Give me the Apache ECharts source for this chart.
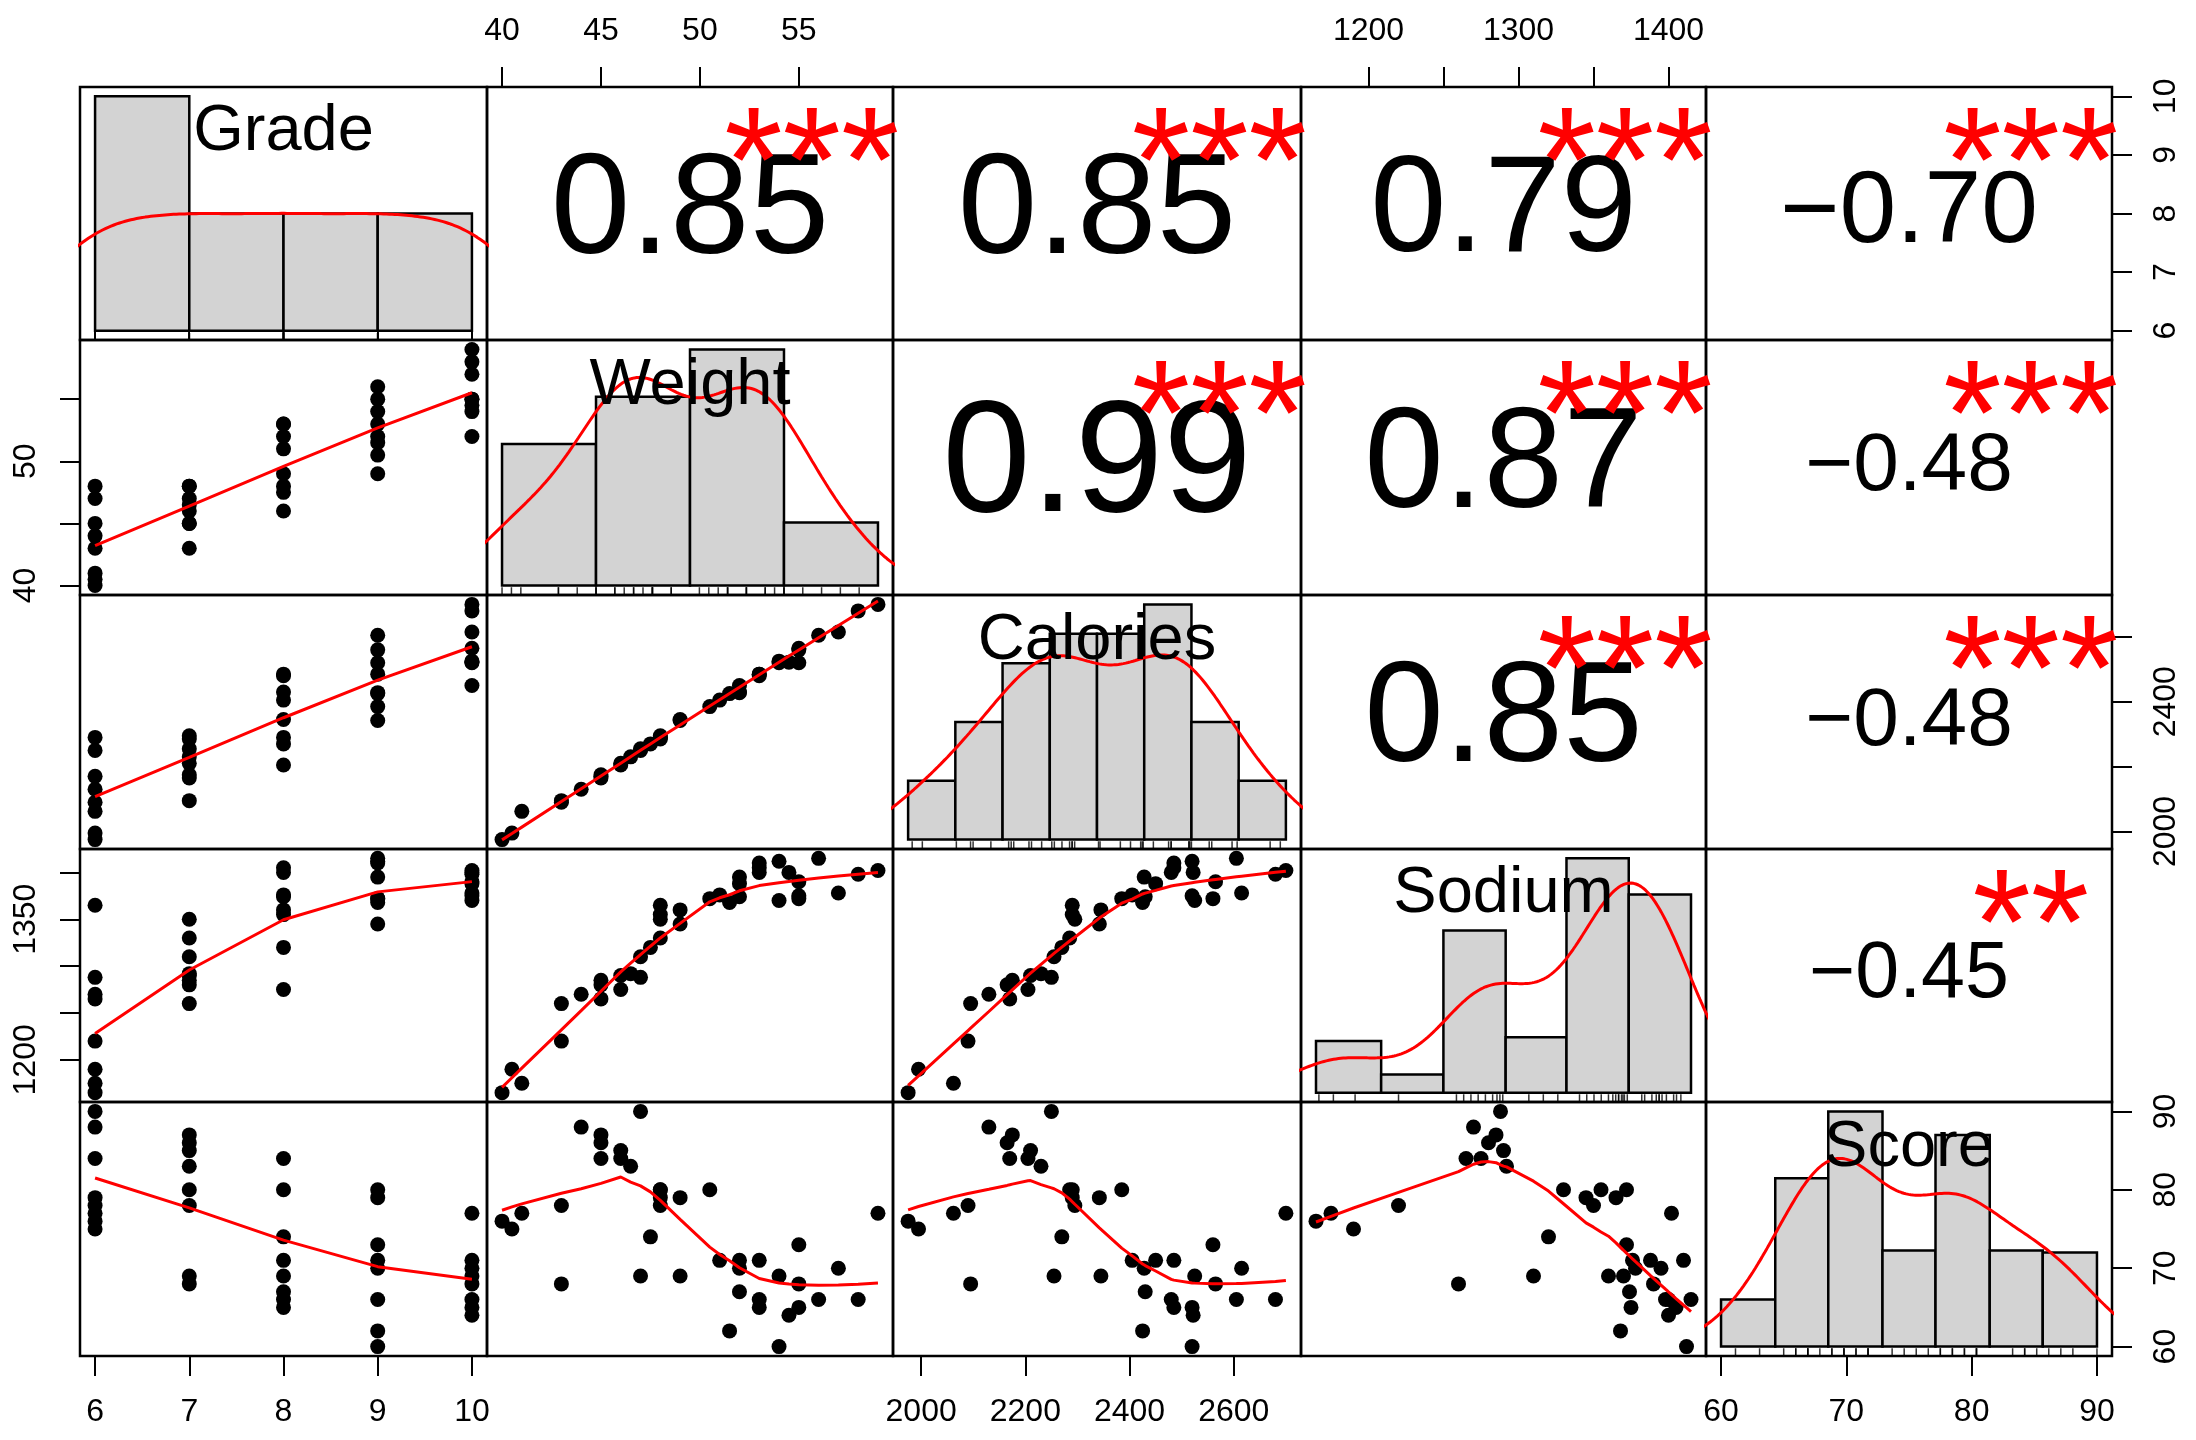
<!DOCTYPE html>
<html><head><meta charset="utf-8">
<script src="https://cdn.jsdelivr.net/npm/echarts@6/dist/echarts.min.js"></script>
<style>html,body{margin:0;padding:0;background:#fff}#c{width:2196px;height:1440px}</style>
</head><body><div id="c"></div>
<script>
// ---------- data ----------
const varNames = ["Grade", "Weight", "Calories", "Sodium", "Score"];
const grade    = [6,6,6,6,6,6,6,6, 7,7,7,7,7,7,7,7, 8,8,8,8,8,8,8,8, 9,9,9,9,9,9,9,9, 10,10,10,10,10,10,10,10];
const weight   = [40,40.5,41,43,44,45,47,48, 43,45,45,46,46.5,47,48,48, 46,47.5,48,49,51,52,53,53, 49,50.5,51.5,52,53,54,55,56, 52,54,54.5,55,55,57,58,59];
const calories = [1975,1995,2062,2090,2130,2170,2250,2290, 2095,2165,2175,2210,2230,2255,2285,2295, 2205,2270,2290,2345,2405,2430,2480,2485, 2342,2385,2425,2428,2485,2520,2560,2605, 2450,2525,2522,2565,2520,2615,2680,2700];
const sodium   = [1165,1190,1175,1220,1270,1265,1288,1365, 1260,1280,1285,1290,1292,1310,1330,1350, 1275,1320,1355,1360,1376,1374,1400,1405, 1345,1372,1368,1395,1410,1412,1372,1415, 1388,1370,1400,1390,1375,1378,1398,1402];
const score    = [76,75,77,78,88,84,90,79, 68,86,87,85,83,69,80,78, 84,74,80,69,71,67,66,65, 79,80,62,70,71,60,73,66, 71,69,64,68,65,70,66,77];

const gradeBreaks    = [6,7,8,9,10];
const weightBreaks   = [40,45,50,55,60];
const caloriesBreaks = [1967,2060,2153,2246,2339,2432,2525,2618,2711];
const sodiumBreaks   = [1163,1208,1251,1294,1336,1379,1422];
const scoreBreaks    = [58.8,63.3,67.7,72.2,76.6,81.1,85.5,90];

// correlation labels, upper triangle [row, col, text, stars]
const corrRows  = [0,0,0,0,1,1,1,2,2,3];
const corrCols  = [1,2,3,4,2,3,4,3,4,4];
const corrText  = ["0.85","0.85","0.79","\u22120.70","0.99","0.87","\u22120.48","0.85","\u22120.48","\u22120.45"];
const corrStars = ["***","***","***","***","***","***","***","***","***","**"];

// tick values / tick labels
const tickVals   = [[6,7,8,9,10],[40,45,50,55],[2000,2200,2400,2600],[1200,1250,1300,1350,1400],[60,70,80,90]];
const xLabelVals = [[6,7,8,9,10],[40,45,50,55],[2000,2200,2400,2600],[1200,1300,1400],[60,70,80,90]];
const yLabelVals = [[6,7,8,9,10],[40,50],[2000,2400],[1200,1350],[60,70,80,90]];

// ---------- layout / style ----------
const xs = [80,487,893,1301,1706,2112];
const ys = [87,340,595,849,1102,1356];
const corrFont = [143,143,137,102,159,143,82,143,82,79];
const FONT = "'Liberation Sans', Arial, Helvetica, sans-serif";

const vars = [grade, weight, calories, sodium, score];
const breaks = [gradeBreaks, weightBreaks, caloriesBreaks, sodiumBreaks, scoreBreaks];

function ext(lo, hi){ const d=(hi-lo)*0.04; return [lo-d, hi+d]; }
const ranges = vars.map(v => ext(Math.min(...v), Math.max(...v)));

function binCounts(v, br){
  const c = new Array(br.length-1).fill(0);
  v.forEach(x => { for (let k=0;k<br.length-1;k++){ if ((k===0 ? x>=br[0] : x>br[k]) && x<=br[k+1]) { c[k]++; break; } } });
  return c;
}
function quantile(sorted, p){ const h=(sorted.length-1)*p, lo=Math.floor(h), hi=Math.ceil(h); return sorted[lo]+(h-lo)*(sorted[hi]-sorted[lo]); }
function kde(v){
  const n=v.length, mean=v.reduce((a,b)=>a+b,0)/n;
  const sd=Math.sqrt(v.reduce((a,b)=>a+(b-mean)*(b-mean),0)/(n-1));
  const s=[...v].sort((a,b)=>a-b);
  const iqr=quantile(s,0.75)-quantile(s,0.25);
  let lo=Math.min(sd, iqr/1.34); if(!(lo>0)) lo=sd;
  const bw=0.9*lo*Math.pow(n,-0.2);
  const a=s[0]-3*bw, b=s[n-1]+3*bw, out=[];
  for(let i=0;i<512;i++){ const x=a+(b-a)*i/511; let d=0; for(const xi of v){ const z=(x-xi)/bw; d+=Math.exp(-0.5*z*z);} out.push([x, d/(n*bw*Math.sqrt(2*Math.PI))]); }
  return out;
}
function median(a){ const s=[...a].sort((x,y)=>x-y); const m=s.length>>1; return s.length%2? s[m] : (s[m-1]+s[m])/2; }
function lowess(xv, yv, f=2/3, iter=3){
  const idx = xv.map((_,i)=>i).sort((i,j)=>xv[i]-xv[j]);
  const x = idx.map(i=>xv[i]), y = idx.map(i=>yv[i]), n=x.length;
  const r = Math.max(2, Math.min(n, Math.round(f*n)));
  let rw = new Array(n).fill(1), fit = new Array(n).fill(0);
  for (let it=0; it<=iter; it++){
    for (let i=0;i<n;i++){
      const d = x.map(v=>Math.abs(v-x[i]));
      const h = [...d].sort((a,b)=>a-b)[r-1];
      let sw=0,sx=0,sy=0,sxx=0,sxy=0;
      for (let j=0;j<n;j++){
        let w;
        if (h<=0) w = d[j]===0?1:0;
        else if (d[j]<=0.001*h) w=1;
        else if (d[j]<=0.999*h){ const q=d[j]/h; w=Math.pow(1-q*q*q,3);} else w=0;
        w*=rw[j];
        sw+=w; sx+=w*x[j]; sy+=w*y[j]; sxx+=w*x[j]*x[j]; sxy+=w*x[j]*y[j];
      }
      const mx=sx/sw, my=sy/sw, vx=sxx/sw-mx*mx;
      fit[i] = vx>1e-12*(Math.abs(mx)+1) ? my + (sxy/sw-mx*my)/vx*(x[i]-mx) : my;
    }
    if (it<iter){
      const res = y.map((v,i)=>v-fit[i]);
      const m = median(res.map(Math.abs));
      if (m===0) break;
      rw = res.map(e=>{ const u=Math.abs(e)/(6*m); return u<1 ? Math.pow(1-u*u,2) : 0; });
    }
  }
  const out=[]; for(let i=0;i<n;i++){ if(i>0 && x[i]===x[i-1]) continue; out.push([x[i],fit[i]]); }
  return out;
}

const grid=[], xAxis=[], yAxis=[], series=[], graphic=[];
const axisLbl = {color:'#000', fontSize:32, fontFamily:FONT, formatter:(v)=>String(v)};
const tickStyle = {color:'#000', width:2};

for (let r=0;r<5;r++) for (let c=0;c<5;c++){
  const gi = grid.length;
  grid.push({left:xs[c], top:ys[r], width:xs[c+1]-xs[c], height:ys[r+1]-ys[r], show:true, borderColor:'#000', borderWidth:2.5, backgroundColor:'transparent', containLabel:false});
  const showTop = r===0 && (c===1||c===3), showBot = r===4 && (c===0||c===2||c===4);
  const showL = c===0 && (r===1||r===3), showR = c===4 && (r===0||r===2||r===4);
  const showX = showTop||showBot, showY = showL||showR;
  xAxis.push({type:'value', gridIndex:gi, min:ranges[c][0], max:ranges[c][1], position: showTop?'top':'bottom',
    axisLine:{show:false}, splitLine:{show:false},
    axisTick:{show:showX, length:20, lineStyle:tickStyle, customValues:tickVals[c]},
    axisLabel:Object.assign({show:showX, margin:40, customValues:xLabelVals[c]}, axisLbl)});
  yAxis.push({type:'value', gridIndex:gi, min:ranges[r][0], max:ranges[r][1], position: showR?'right':'left',
    axisLine:{show:false}, splitLine:{show:false},
    axisTick:{show:showY, length:20, lineStyle:tickStyle, customValues:tickVals[r]},
    axisLabel:Object.assign({show:showY, margin:38, rotate:90, customValues:yLabelVals[r]}, axisLbl)});
  if (r>c){
    const pts = vars[c].map((v,i)=>[v, vars[r][i]]);
    series.push({type:'scatter', xAxisIndex:gi, yAxisIndex:gi, data:pts, symbolSize:15, itemStyle:{color:'#000', opacity:1}, silent:true, z:3});
    series.push({type:'line', xAxisIndex:gi, yAxisIndex:gi, data:lowess(vars[c], vars[r]), showSymbol:false, lineStyle:{color:'#ff0000', width:3}, silent:true, z:4});
  }
}
// diagonal histograms
for (let k=0;k<5;k++){
  const gi = grid.length, br = breaks[k], v = vars[k], n=v.length;
  grid.push({left:xs[k], top:ys[k], width:xs[k+1]-xs[k], height:ys[k+1]-ys[k], show:false});
  const counts = binCounts(v, br);
  const bars = counts.map((cnt,i)=>[br[i], br[i+1], cnt/(n*(br[i+1]-br[i]))]);
  const M = Math.max(...bars.map(b=>b[2]));
  const xr = ext(br[0], br[br.length-1]);
  xAxis.push({type:'value', gridIndex:gi, min:xr[0], max:xr[1], show:false});
  yAxis.push({type:'value', gridIndex:gi, min:-0.04*M, max:1.04*M, show:false});
  series.push({type:'custom', xAxisIndex:gi, yAxisIndex:gi, data:bars, clip:true, silent:true, z:2,
    renderItem:(params, api)=>{
      const p0 = api.coord([api.value(0), 0]), p1 = api.coord([api.value(1), api.value(2)]);
      return {type:'rect', shape:{x:p0[0], y:p1[1], width:p1[0]-p0[0], height:p0[1]-p1[1]},
        style:{fill:'#d3d3d3', stroke:'#000', lineWidth:2.5}};
    }, encode:{x:[0,1], y:2}});
  series.push({type:'line', xAxisIndex:gi, yAxisIndex:gi, data:kde(v), showSymbol:false, clip:true, lineStyle:{color:'#ff0000', width:3}, silent:true, z:4});
  series.push({type:'scatter', xAxisIndex:gi, yAxisIndex:gi, data:v.map(x=>[x, -0.024*M]), symbol:'rect', symbolSize:[1.5,8], itemStyle:{color:'#000'}, silent:true, z:3});
  graphic.push({type:'text', x:(xs[k]+xs[k+1])/2, y:ys[k]+0.18*(ys[k+1]-ys[k]), z:10,
    style:{text:varNames[k], fontSize:65, fontFamily:FONT, fill:'#000', align:'center', verticalAlign:'middle'}});
}
// correlation texts
for (let q=0;q<corrText.length;q++){
  const r=corrRows[q], c=corrCols[q];
  const L=xs[c], R=xs[c+1], T=ys[r], B=ys[r+1];
  graphic.push({type:'text', x:(L+R)/2, y:(T+B)/2, z:10,
    style:{text:corrText[q], fontSize:corrFont[q], fontFamily:FONT, fill:'#000', align:'center', verticalAlign:'middle'}});
  graphic.push({type:'text', x:L+0.8*(R-L), y:B-0.8*(B-T)+33, z:11,
    style:{text:corrStars[q], fontSize:150, fontFamily:FONT, fill:'#ff0000', align:'center', verticalAlign:'middle'}});
}

const chart = echarts.init(document.getElementById('c'), null, {renderer:'canvas'});
chart.setOption({animation:false, backgroundColor:'#fff', grid, xAxis, yAxis, series, graphic});
</script></body></html>
